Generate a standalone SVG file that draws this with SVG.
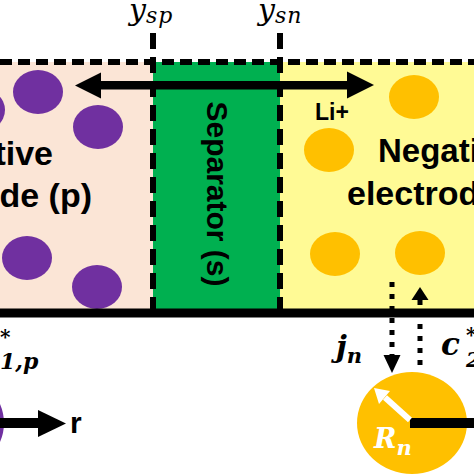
<svg xmlns="http://www.w3.org/2000/svg" width="474" height="474" viewBox="0 0 474 474">
<style>
.lbl{font-family:"Liberation Sans",Arial,sans-serif;font-weight:bold;fill:#000}
.math{font-family:"DejaVu Serif","Liberation Serif",serif;font-style:italic}
.mb{font-family:"DejaVu Serif","Liberation Serif",serif;font-style:italic;font-weight:bold}
.pp{fill:#7030A0}
.np{fill:#FFC000}
.dash{stroke:#000;stroke-width:6;fill:none;stroke-dasharray:16 8}
.dot{stroke:#000;stroke-width:5;fill:none;stroke-dasharray:5 7}
.blk{fill:#000}
</style>
<rect width="474" height="474" fill="#fff"/>
<g id="positive-electrode">
<rect x="0" y="62" width="153" height="251" fill="#FBE5D6"/>
<ellipse class="pp" cx="-20" cy="110" rx="25" ry="22"/>
<ellipse class="pp" cx="38" cy="92" rx="25" ry="22"/>
<ellipse class="pp" cx="98" cy="127" rx="25" ry="22"/>
<ellipse class="pp" cx="27" cy="258" rx="25" ry="22"/>
<ellipse class="pp" cx="97" cy="287" rx="25" ry="22"/>
<text class="lbl" font-size="34" x="53" y="165" text-anchor="end">Positive</text>
<text class="lbl" font-size="34" x="92" y="207" text-anchor="end">electrode (p)</text>
</g>
<g id="separator">
<rect x="153" y="62" width="127" height="251" fill="#00B050"/>
<text class="lbl" font-size="30" transform="translate(207,194) rotate(90)" text-anchor="middle">Separator (s)</text>
</g>
<g id="negative-electrode">
<rect x="280" y="62" width="194" height="251" fill="#FFFA95"/>
<ellipse class="np" cx="414" cy="97" rx="25" ry="22"/>
<ellipse class="np" cx="329" cy="150" rx="25" ry="22"/>
<ellipse class="np" cx="335" cy="254" rx="25" ry="22"/>
<ellipse class="np" cx="420" cy="253" rx="25" ry="22"/>
<text class="lbl" font-size="33" x="378" y="162">Negative</text>
<text class="lbl" font-size="34" x="347" y="205">electrode (n)</text>
</g>
<g id="positive-particle">
<ellipse class="pp" cx="-51" cy="423" rx="55" ry="51"/>
</g>
<g id="negative-particle">
<ellipse class="np" cx="412" cy="423" rx="55" ry="51"/>
<rect class="blk" x="410" y="418" width="64" height="10"/>
<line x1="410" y1="420" x2="385" y2="397.5" stroke="#fff" stroke-width="6"/>
<polygon points="374,388 390,391 379,404" fill="#fff"/>
<text class="mb" x="374" y="448" font-size="27" fill="#fff">R<tspan font-size="21" dy="7">n</tspan></text>
</g>
<g id="connectors">
<line class="dash" x1="0" y1="62" x2="474" y2="62" style="stroke-dasharray:12 6"/>
<line class="dash" x1="153" y1="33" x2="153" y2="310"/>
<line class="dash" x1="280" y1="33" x2="280" y2="310"/>
<rect class="blk" x="0" y="308.5" width="474" height="9"/>
<rect class="blk" x="99" y="81" width="250" height="8.5"/>
<polygon class="blk" points="75,85.5 101,72.5 101,98.5"/>
<polygon class="blk" points="374,85 347,71.5 347,98.5"/>
<line class="dot" x1="392" y1="282" x2="392" y2="356"/>
<polygon class="blk" points="383.5,355 400.5,355 392,373"/>
<line class="dot" x1="420" y1="365" x2="420" y2="298"/>
<polygon class="blk" points="411.5,300 428.5,300 420,287"/>
<rect class="blk" x="0" y="418" width="40" height="10"/>
<polygon class="blk" points="38,410 38,437 66,423.5"/>
</g>
<g id="labels">
<text class="lbl" x="315" y="120" font-size="23">Li+</text>
<text class="lbl" x="70" y="433" font-size="30">r</text>
<text class="math" x="129" y="20" font-size="30">y<tspan font-size="22" dy="3" letter-spacing="1">sp</tspan></text>
<text class="math" x="258" y="20" font-size="30">y<tspan font-size="22" dy="3" letter-spacing="1">sn</tspan></text>
<text class="mb" x="336" y="357" font-size="30">j<tspan font-size="21" dy="6">n</tspan></text>
<text class="mb" x="441" y="355" font-size="31">c<tspan x="466" y="342" font-size="20">*</tspan><tspan x="466" y="367" font-size="21">2</tspan></text>
<text class="mb" font-size="22"><tspan x="0" y="344" font-size="20">*</tspan><tspan x="0" y="369">1,p</tspan></text>
</g>
</svg>
